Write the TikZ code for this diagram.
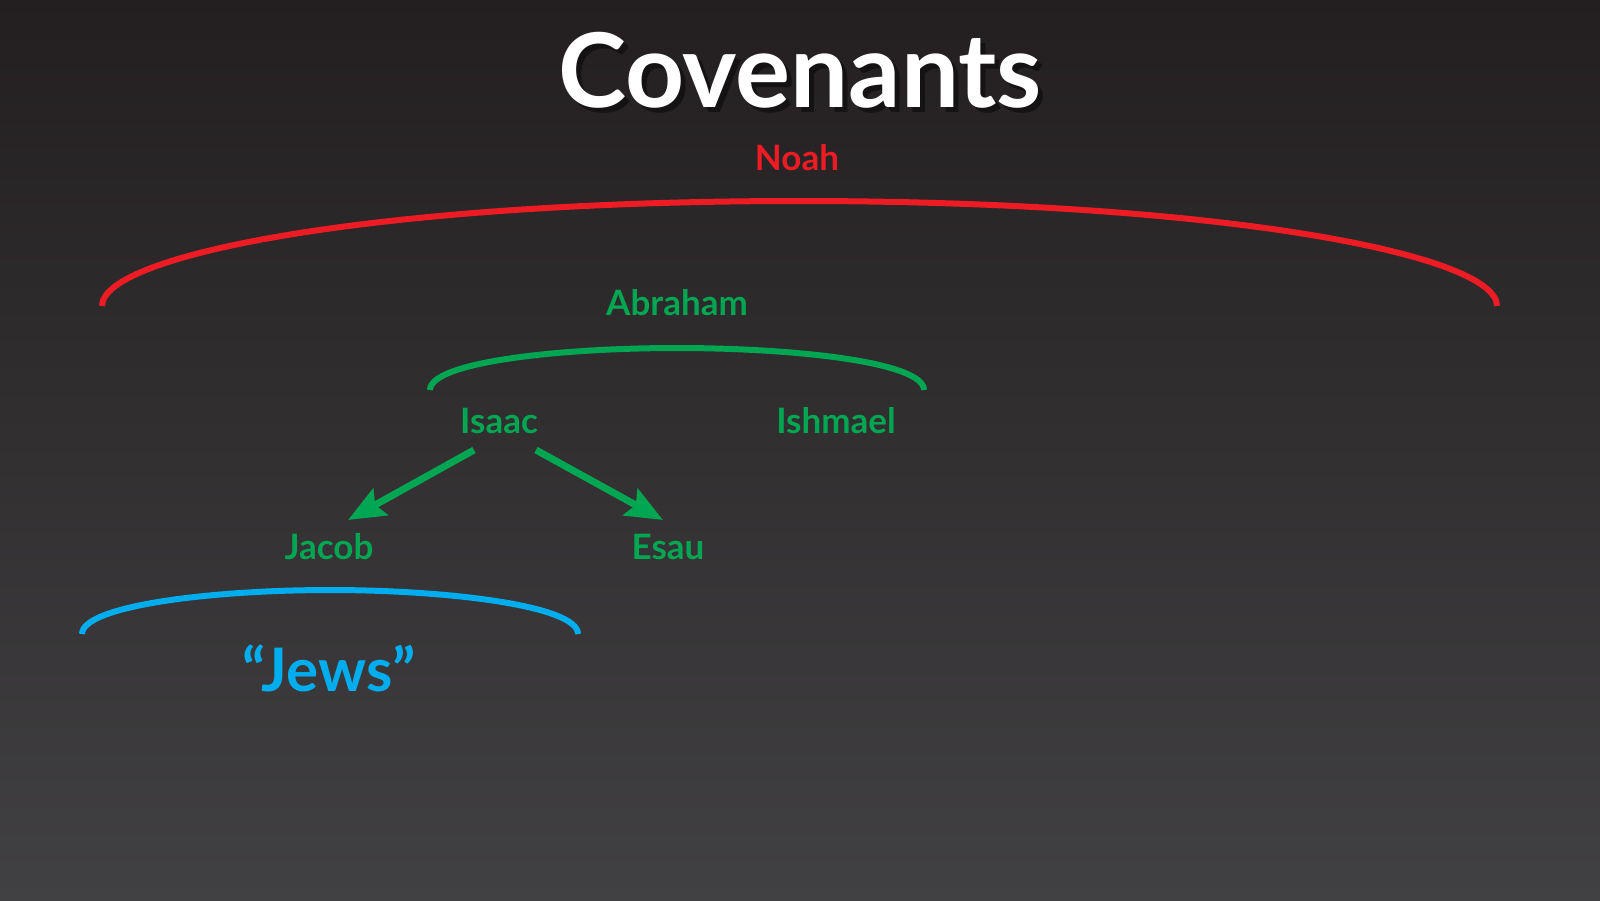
\documentclass[tikz,border=0pt]{standalone}
\usepackage{fontspec}
\setmainfont{Lato}
\usetikzlibrary{arrows.meta}
\definecolor{bgtop}{HTML}{231F20}
\definecolor{bgbot}{HTML}{414042}
\definecolor{noahred}{HTML}{ED1C24}
\definecolor{abgreen}{HTML}{00A651}
\definecolor{jewblue}{HTML}{00AEEF}
\tikzset{
  lbl/.style={anchor=base,inner sep=0pt,font=\fontsize{35}{40}\selectfont\bfseries},
  titletxt/.style={anchor=base,inner sep=0pt,font=\fontsize{103}{110}\selectfont\bfseries},
  arcline/.style={line width=6pt,line cap=butt},
  childarrow/.style={draw=abgreen,line width=7pt,-{Stealth[length=37pt,width=30pt,inset=6pt]}}
}
\begin{document}
\begin{tikzpicture}[x=1pt,y=-1pt]
\shade[top color=bgtop,bottom color=bgbot] (0,0) rectangle (1600,900);
\useasboundingbox (0,0) rectangle (1600,900);
% title with soft shadow
\node[titletxt,text=black,opacity=0.45] (titleshadow) at (805,112) {Covenants};
\node[titletxt,text=white] (title) at (800,107) {Covenants};
% Noah
\node[lbl,text=noahred] (noah) at (797,170) {Noah};
\draw[arcline,draw=noahred] (102,306) .. controls (102,254) and (380,201) .. (799,201)
   .. controls (1218,201) and (1497,254) .. (1497,306);
% Abraham
\node[lbl,text=abgreen] (abraham) at (677,315) {Abraham};
\draw[arcline,draw=abgreen] (430,390) .. controls (430,362) and (560,348) .. (677,348)
   .. controls (794,348) and (924,362) .. (924,390);
\node[lbl,text=abgreen] (isaac) at (499,433) {Isaac};
\node[lbl,text=abgreen] (ishmael) at (836,433) {Ishmael};
\node[lbl,text=abgreen] (jacob) at (329,559) {Jacob};
\node[lbl,text=abgreen] (esau) at (668,559) {Esau};
\coordinate (isaacL) at (474,450);
\coordinate (isaacR) at (536,450);
\coordinate (jacobT) at (348,520);
\coordinate (esauT) at (663,520);
\draw[childarrow] (isaacL) -- (jacobT);
\draw[childarrow] (isaacR) -- (esauT);
% Jews
\draw[arcline,draw=jewblue] (82,634) .. controls (82,606) and (210,590) .. (330,590)
   .. controls (450,590) and (578,606) .. (578,634);
\node[anchor=base,inner sep=0pt,font=\fontsize{60}{66}\selectfont\bfseries,text=jewblue] (jews) at (329,691) {“Jews”};
\end{tikzpicture}
\end{document}
